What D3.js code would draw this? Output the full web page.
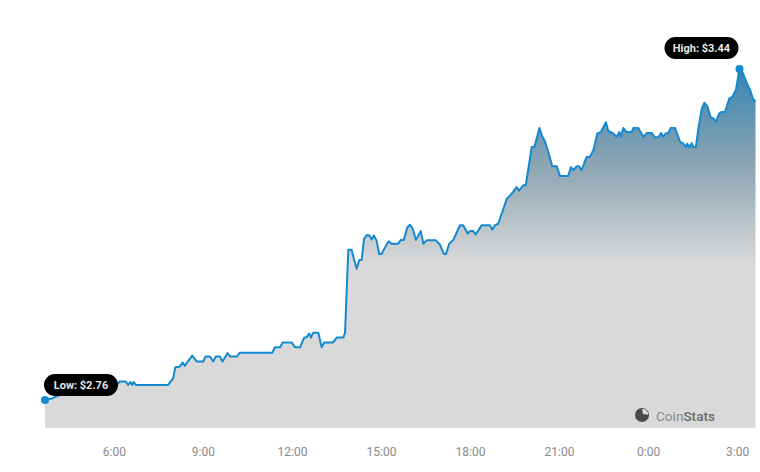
<!DOCTYPE html>
<html><head><meta charset="utf-8">
<script src="https://cdn.jsdelivr.net/npm/d3@7"></script>
<style>body{margin:0;background:#fff}svg{display:block;font-family:Roboto,"Noto Sans",sans-serif}</style>
</head><body><svg id="c" width="760" height="472"></svg>
<script>
// hour of day (values > 24 belong to the next day)
const hours = [3.68,3.90,4.05,4.38,4.85,5.36,5.87,6.10,6.20,6.40,6.48,6.56,6.62,6.67,6.74,7.83,8.00,8.07,8.21,8.32,8.39,8.50,8.56,8.64,8.79,9.01,9.09,9.24,9.35,9.43,9.57,9.66,9.83,9.93,10.14,10.25,11.34,11.43,11.60,11.69,11.99,12.10,12.27,12.41,12.49,12.58,12.64,12.72,12.89,13.00,13.09,13.39,13.51,13.73,13.79,13.90,14.01,14.09,14.18,14.27,14.35,14.43,14.52,14.61,14.69,14.76,14.85,14.94,15.02,15.25,15.36,15.58,15.67,15.77,15.89,15.98,16.07,16.18,16.34,16.43,16.54,16.85,16.99,17.12,17.19,17.30,17.44,17.66,17.77,17.92,18.00,18.11,18.19,18.28,18.39,18.67,18.75,18.84,18.95,19.07,19.24,19.35,19.46,19.57,19.65,19.80,19.88,20.08,20.17,20.34,20.42,20.53,20.64,20.77,20.92,21.03,21.31,21.40,21.48,21.60,21.67,21.76,21.93,22.04,22.16,22.29,22.41,22.58,22.66,22.83,22.94,23.03,23.08,23.17,23.28,23.45,23.50,23.67,23.84,23.96,24.12,24.23,24.35,24.44,24.51,24.59,24.68,24.76,24.91,25.08,25.19,25.28,25.32,25.39,25.47,25.52,25.61,25.69,25.81,25.90,26.00,26.11,26.20,26.29,26.40,26.48,26.59,26.74,26.84,26.96,27.08,27.19,27.33,27.44,27.53,27.62];
const prices = [2.762,2.765,2.769,2.777,2.781,2.789,2.793,2.793,2.800,2.800,2.793,2.799,2.793,2.799,2.793,2.793,2.807,2.829,2.830,2.839,2.832,2.842,2.846,2.853,2.841,2.841,2.851,2.851,2.841,2.851,2.851,2.841,2.858,2.851,2.851,2.859,2.859,2.870,2.870,2.880,2.880,2.870,2.870,2.890,2.890,2.898,2.890,2.900,2.900,2.870,2.880,2.880,2.890,2.890,2.900,3.070,3.070,3.051,3.031,3.049,3.049,3.092,3.100,3.099,3.091,3.099,3.089,3.061,3.061,3.087,3.082,3.082,3.090,3.090,3.116,3.121,3.113,3.090,3.108,3.082,3.089,3.089,3.080,3.061,3.061,3.082,3.090,3.120,3.120,3.103,3.108,3.108,3.101,3.109,3.120,3.120,3.111,3.120,3.123,3.144,3.174,3.181,3.189,3.198,3.191,3.202,3.202,3.280,3.280,3.319,3.304,3.291,3.270,3.241,3.241,3.221,3.221,3.239,3.233,3.241,3.241,3.233,3.260,3.260,3.274,3.308,3.311,3.331,3.313,3.308,3.301,3.311,3.301,3.319,3.311,3.311,3.319,3.319,3.301,3.309,3.309,3.300,3.300,3.309,3.301,3.308,3.309,3.319,3.319,3.291,3.287,3.280,3.287,3.280,3.288,3.280,3.280,3.316,3.359,3.371,3.363,3.341,3.339,3.332,3.349,3.352,3.352,3.380,3.383,3.397,3.440,3.432,3.411,3.397,3.380,3.373];
const tickStepHours = 3;

const base = new Date(2024, 0, 1, 0, 0, 0).getTime();
const data = hours.map((h, i) => ({t: new Date(base + h * 3600e3), p: prices[i]}));

const svg = d3.select("#c");
const lowV = d3.min(prices), highV = d3.max(prices);
const x = d3.scaleTime().domain(d3.extent(data, d => d.t)).range([45, 755.5]);
const y = d3.scaleLinear().domain([lowV - (highV - lowV) * 0.0845, highV]).range([428, 69]);
const lineColor = "#1489d0";

const defs = svg.append("defs");
const grad = defs.append("linearGradient").attr("id", "g")
  .attr("gradientUnits", "userSpaceOnUse").attr("x1", 0).attr("x2", 0)
  .attr("y1", y(highV)).attr("y2", y(highV) + 195);
grad.append("stop").attr("offset", 0).attr("stop-color", "#3785b2");
grad.append("stop").attr("offset", 0.5).attr("stop-color", "#8ea5b3");
grad.append("stop").attr("offset", 1).attr("stop-color", "#d9d9d9");

svg.append("path").datum(data)
  .attr("d", d3.area().x(d => x(d.t)).y0(y.range()[0]).y1(d => y(d.p)))
  .attr("fill", "url(#g)");
svg.append("path").datum(data)
  .attr("d", d3.line().x(d => x(d.t)).y(d => y(d.p)))
  .attr("fill", "none").attr("stroke", lineColor).attr("stroke-width", 2)
  .attr("stroke-linejoin", "round");

// x axis
const ax = svg.append("g").attr("transform", "translate(0,428)")
  .call(d3.axisBottom(x).ticks(d3.timeHour.every(tickStepHours)).tickFormat(d3.timeFormat("%-H:%M")).tickSize(0).tickPadding(19));
ax.select(".domain").remove();
ax.selectAll("text").attr("fill", "#8a8a8a").attr("font-size", 12).attr("font-family", "Roboto, sans-serif");

// watermark
const wm = svg.append("g").attr("transform", "translate(642,415)");
wm.append("circle").attr("r", 7).attr("fill", "#4a4a4a");
wm.append("path").attr("d", d3.arc()({innerRadius: 0, outerRadius: 5, startAngle: -0.2, endAngle: Math.PI * 0.55})).attr("fill", "#d9d9d9").attr("transform", "translate(1,-1)");
const wt = svg.append("text").attr("x", 656).attr("y", 420.5).attr("font-size", 12.5).attr("font-family", "Roboto, sans-serif")
  .attr("textLength", 59).attr("lengthAdjust", "spacingAndGlyphs");
wt.append("tspan").text("Coin").attr("fill", "#8a8a8a");
wt.append("tspan").text("Stats").attr("fill", "#6a6a6a").attr("font-weight", 500);

// markers & labels
const lowD = data.find(d => d.p === lowV), highD = data.find(d => d.p === highV);
[lowD, highD].forEach(d => svg.append("circle").attr("cx", x(d.t)).attr("cy", y(d.p)).attr("r", 4).attr("fill", lineColor));

function pill(cx, cy, txt) {
  const g = svg.append("g");
  g.append("rect").attr("x", cx - 37).attr("y", cy - 11).attr("width", 74).attr("height", 22).attr("rx", 11).attr("fill", "#000");
  g.append("text").attr("x", cx).attr("y", cy + 4).attr("text-anchor", "middle").attr("fill", "#e6e6e6")
    .attr("font-size", 11).attr("font-weight", 700).attr("font-family", "Roboto, sans-serif").text(txt);
}
pill(x(lowD.t) + 36, y(lowD.p) - 15, "Low: $" + lowV.toFixed(2));
pill(x(highD.t) - 38, y(highD.p) - 21, "High: $" + highV.toFixed(2));
</script></body></html>
